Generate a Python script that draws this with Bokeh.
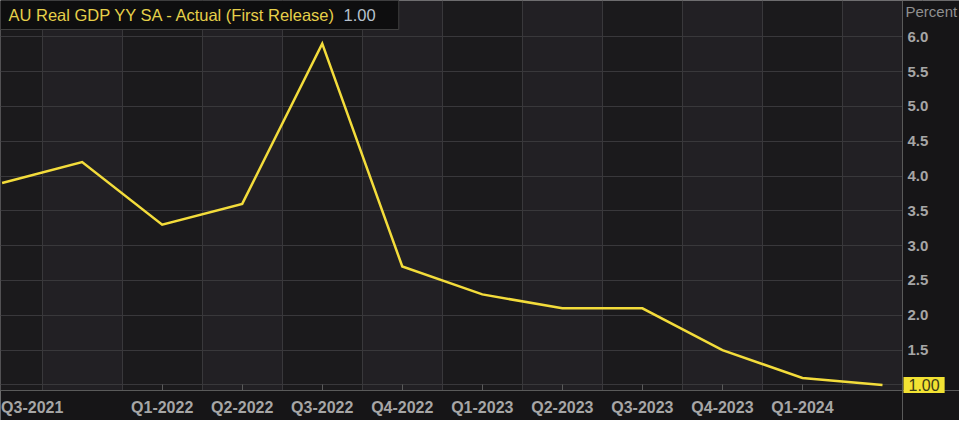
from bokeh.plotting import figure
from bokeh.models import (FixedTicker, Label, BoxAnnotation, ColumnDataSource, Range1d)
from bokeh.embed import file_html
from bokeh.resources import INLINE

# ---- data ----
quarters = ["Q3-2021", "Q4-2021", "Q1-2022", "Q2-2022", "Q3-2022", "Q4-2022",
            "Q1-2023", "Q2-2023", "Q3-2023", "Q4-2023", "Q1-2024", "Q2-2024"]
gdp_yy = [3.9, 4.2, 3.3, 3.6, 5.9, 2.7, 2.3, 2.1, 2.1, 1.5, 1.1, 1.0]
y_ticks = [1.5, 2.0, 2.5, 3.0, 3.5, 4.0, 4.5, 5.0, 5.5, 6.0]
title_text = "AU Real GDP YY SA - Actual (First Release)"
last_value_text = "1.00"
unit_text = "Percent"

idx = list(range(len(quarters)))
source = ColumnDataSource(dict(x=idx, y=gdp_yy))

# ---- layout (pixels) ----
W, H = 959, 420
PLOT_W, PLOT_H = 902, 390          # visible plotting area inside the canvas
X0, X_AX = -0.02, len(quarters) - 1 + 0.25   # x span of the plotting area
Y_AX, Y1 = 0.92, 6.52                          # y span of the plotting area
px_x = PLOT_W / (X_AX - X0)
px_y = PLOT_H / (Y1 - Y_AX)
x_end = X0 + W / px_x
y_start = Y1 - H / px_y

BG = "#1b1a1c"
BAND = "#222024"
BORDER = "#161517"
GRID = "#39383b"
AXIS = "#5a5a5a"
LABEL = "#a6a6a6"
YELLOW = "#f3dc3b"
AXFONT = "Liberation Sans"

p = figure(width=W, height=H, output_backend="svg", toolbar_location=None,
           y_axis_location="right",
           x_range=Range1d(X0, x_end), y_range=Range1d(y_start, Y1),
           background_fill_color=BORDER, border_fill_color=BORDER,
           min_border_left=0, min_border_right=0,
           min_border_top=0, min_border_bottom=0,
           outline_line_color=None)

# plotting-area background with alternating column bands
for i in idx:
    p.add_layout(BoxAnnotation(left=i - 0.5, right=min(i + 0.5, X_AX), bottom=Y_AX,
                               fill_color=(BAND if i % 2 else BG), fill_alpha=1.0,
                               line_color=None, level="image"))

# grids
p.xgrid.ticker = FixedTicker(ticks=[i + 0.5 for i in idx])
p.xgrid.grid_line_color = GRID
p.ygrid.ticker = FixedTicker(ticks=[1.0] + y_ticks)
p.ygrid.grid_line_color = GRID

# cover grid lines in the axis areas
p.add_layout(BoxAnnotation(left=X_AX, fill_color=BORDER, fill_alpha=1.0,
                           line_color=None, level="underlay"))
p.add_layout(BoxAnnotation(top=Y_AX, fill_color=BORDER, fill_alpha=1.0,
                           line_color=None, level="underlay"))

# x axis
xa = p.xaxis[0]
xa.fixed_location = Y_AX
xa.ticker = FixedTicker(ticks=idx[2:-1])
xa.major_label_overrides = {i: quarters[i] for i in idx}
xa.major_tick_in = 6
xa.major_tick_out = 0
xa.minor_tick_line_color = None
xa.major_tick_line_color = AXIS
xa.axis_line_color = AXIS
xa.major_label_standoff = 8
xa.major_label_text_color = LABEL
xa.major_label_text_font = AXFONT
xa.major_label_text_font_style = "bold"
xa.major_label_text_font_size = "16px"

# y axis (right)
ya = p.yaxis[0]
ya.fixed_location = X_AX
ya.ticker = FixedTicker(ticks=y_ticks)
ya.major_label_overrides = {t: f"{t:.1f}" for t in y_ticks}
ya.major_tick_in = 0
ya.major_tick_out = 0
ya.minor_tick_line_color = None
ya.axis_line_color = AXIS
ya.major_label_standoff = 5
ya.major_label_text_color = LABEL
ya.major_label_text_font = AXFONT
ya.major_label_text_font_style = "bold"
ya.major_label_text_font_size = "15px"

# series line
p.line("x", "y", source=source, line_color=YELLOW, line_width=2.5,
       line_join="miter")

# first category label (shifted into view)
p.add_layout(Label(x=idx[0], y=Y_AX, y_offset=-17, text=quarters[0],
                   text_align="left", text_baseline="middle", x_offset=-1,
                   text_color=LABEL, text_font=AXFONT,
                   text_font_style="bold", text_font_size="16px"))

# title box
p.add_layout(Label(x=0, y=H - 14, x_units="screen", y_units="screen",
                   text=title_text, text_align="left", text_baseline="middle",
                   text_color="#e6d04a", text_font="Liberation Sans",
                   text_font_size="16.5px",
                   background_fill_color="#0e0e0f", background_fill_alpha=1.0,
                   border_line_color="#3f3f3f", border_line_width=1,
                   padding=dict(left=8, right=62, top=6, bottom=6)))
p.add_layout(Label(x=343, y=H - 14, x_units="screen", y_units="screen",
                   text=last_value_text, text_align="left", text_baseline="middle",
                   text_color="#b6c2ce", text_font="Liberation Sans",
                   text_font_size="16.5px"))

# unit label
p.add_layout(Label(x=X_AX, x_offset=3, y=H - 11, y_units="screen",
                   text=unit_text, text_align="left", text_baseline="middle",
                   text_color="#8f8f8f", text_font="Liberation Sans",
                   text_font_size="15px"))

# last value tag
p.add_layout(Label(x=X_AX, x_offset=1, y=gdp_yy[-1],
                   text=f"{gdp_yy[-1]:.2f}", text_align="left", text_baseline="middle",
                   text_color="#3b3b18", text_font="Liberation Sans",
                   text_font_size="16px",
                   background_fill_color="#f2e233", background_fill_alpha=1.0,
                   padding=dict(left=5, right=5, top=2, bottom=2)))

open("out.html", "w").write(file_html(p, INLINE))
